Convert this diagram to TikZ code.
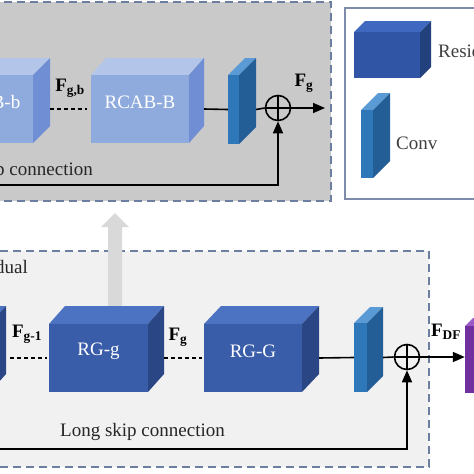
\documentclass[tikz,border=0pt]{standalone}
\usepackage{fontspec}
\setmainfont{Liberation Serif}
\usetikzlibrary{arrows.meta,fit}
\definecolor{rgfront}{HTML}{3A5DAA}
\definecolor{rgtop}{HTML}{4C72C2}
\definecolor{rgside}{HTML}{2A4684}
\definecolor{rcfront}{HTML}{8FABDD}
\definecolor{rctop}{HTML}{B3C6EA}
\definecolor{rcside}{HTML}{6F8ED4}
\definecolor{cvfront}{HTML}{2E78BA}
\definecolor{cvtop}{HTML}{5B9BD5}
\definecolor{cvside}{HTML}{235E96}
\definecolor{lgfront}{HTML}{2F55A4}
\definecolor{lgtop}{HTML}{3F69C0}
\definecolor{lgside}{HTML}{22407C}
\definecolor{pufront}{HTML}{7030A0}
\definecolor{putop}{HTML}{9A5BC8}
\definecolor{puside}{HTML}{5A2484}
\definecolor{boxline}{HTML}{6D7FA0}
\definecolor{topfill}{HTML}{C9C9C9}
\definecolor{botfill}{HTML}{F1F1F1}
\definecolor{garrow}{HTML}{D9D9D9}
\newcommand{\cuboid}[9]{%
  \fill[#8top] (#2,#3) -- (#2+#6,#3-#7) -- (#4+#6,#3-#7) -- (#4,#3) -- cycle;
  \fill[#8side] (#4,#3) -- (#4+#6,#3-#7) -- (#4+#6,#5-#7) -- (#4,#5) -- cycle;
  \node[fit={(#2,#3) (#4,#5)}, inner sep=0pt, fill=#8front, text=white, font=\fontsize{19}{22}\selectfont] (#1) {#9};
  \coordinate (#1-r) at ({#4+#6},{(#3+#5)/2});
}
\tikzset{
  dashbox/.style={draw=boxline, line width=1.3pt, dash pattern=on 8pt off 5pt},
  solidline/.style={line width=1.6pt, black},
  dotline/.style={line width=1.8pt, black, dash pattern=on 4pt off 3pt},
  arr/.style={solidline, -{Triangle[length=12pt,width=10pt]}},
  sumnode/.style={circle, draw, line width=1.6pt, minimum size=25pt, inner sep=0pt,
    path picture={\draw[line width=1.6pt] (path picture bounding box.north) -- (path picture bounding box.south) (path picture bounding box.west) -- (path picture bounding box.east);}},
  lbl/.style={font=\fontsize{19}{22}\selectfont, text=black!85, inner sep=0pt},
  flbl/.style={font=\fontsize{19}{22}\selectfont\bfseries, text=black, inner sep=0pt},
}
\begin{document}
\begin{tikzpicture}[x=1pt,y=-1pt]
\useasboundingbox (0,0) rectangle (474,474);
% boxes
\fill[topfill] (-5,2) rectangle (331,201);
\draw[dashbox] (-5,2) rectangle (331,201);
\fill[botfill] (-5,251) rectangle (429,467);
\draw[dashbox] (-5,251) rectangle (429,467);
\draw[draw=boxline!90, fill=white, line width=1.3pt] (345,8) rectangle (490,199);

% top row
\cuboid{rcabb1}{-60}{75}{33}{143}{17}{17}{rc}{RCAB-b}
\cuboid{rcabB}{91}{75}{189}{143}{15}{17}{rc}{RCAB-B}
\cuboid{convt}{228}{75}{239}{144}{17}{17}{cv}{}
\node[sumnode] (s1) at (278,108) {};
\coordinate (outg) at (325,108);
\coordinate (sk1) at (-5,185);
\draw[dotline, shorten >=4pt] (rcabb1-r) -- (rcabB.west);
\draw[solidline] (rcabB-r) -- (convt.west);
\draw[solidline] (convt-r) -- (s1.west);
\draw[arr] (s1.east) -- (outg);
\draw[arr] (sk1) -| (s1.south);
\node[flbl] (lfgb) at (70,88) {F\textsubscript{g,b}};
\node[flbl] (lfg1) at (304,83) {F\textsubscript{g}};
\node[lbl, anchor=east] (tsk) at (93,171) {Short skip connection};

% legend
\cuboid{lres}{354}{32}{420}{78}{11}{11}{lg}{}
\cuboid{lconv}{361}{110}{373}{178}{17}{17}{cv}{}
\node[lbl, anchor=west, text=black!75] (tres) at (438,51) {Residual block};
\node[lbl, anchor=west, text=black!75] (tconv) at (396,143) {Conv};

% gray arrow
\fill[garrow] (108,306) -- (108,227) -- (101,227) -- (115,213) -- (129,227) -- (122,227) -- (122,306) -- cycle;

% bottom row
\cuboid{rgprev}{-110}{324}{-10}{392}{16}{18}{rg}{}
\cuboid{rgg}{49}{324}{148}{392}{16}{18}{rg}{RG-g}
\cuboid{rgG}{204}{324}{302}{392}{17}{18}{rg}{RG-G}
\cuboid{convb}{354}{323}{367}{392}{16}{16}{cv}{}
\cuboid{purp}{465}{326}{520}{393}{8}{8}{pu}{}
\node[sumnode] (s2) at (407,357) {};
\coordinate (sk2) at (-5,449);
\draw[dotline, shorten <=4pt, shorten >=2pt] (rgprev-r) -- (rgg.west);
\draw[dotline, shorten >=2pt] (rgg-r) -- (rgG.west);
\draw[solidline] (rgG-r) -- (convb.west);
\draw[solidline] (convb-r) -- (s2.west);
\draw[arr] (s2.east) -- (s2.east -| purp.west);
\draw[arr] (sk2) -| (s2.south);
\node[flbl] (lfg2) at (27,334) {F\textsubscript{g-1}};
\node[flbl] (lfg3) at (178,337) {F\textsubscript{g}};
\node[flbl] (lfdf) at (446,332) {F\textsubscript{DF}};
\node[lbl, anchor=west] (tlsk) at (60,432) {Long skip connection};
\node[lbl, anchor=east] (trir) at (28,267) {Residual in Residual};
\end{tikzpicture}
\end{document}
